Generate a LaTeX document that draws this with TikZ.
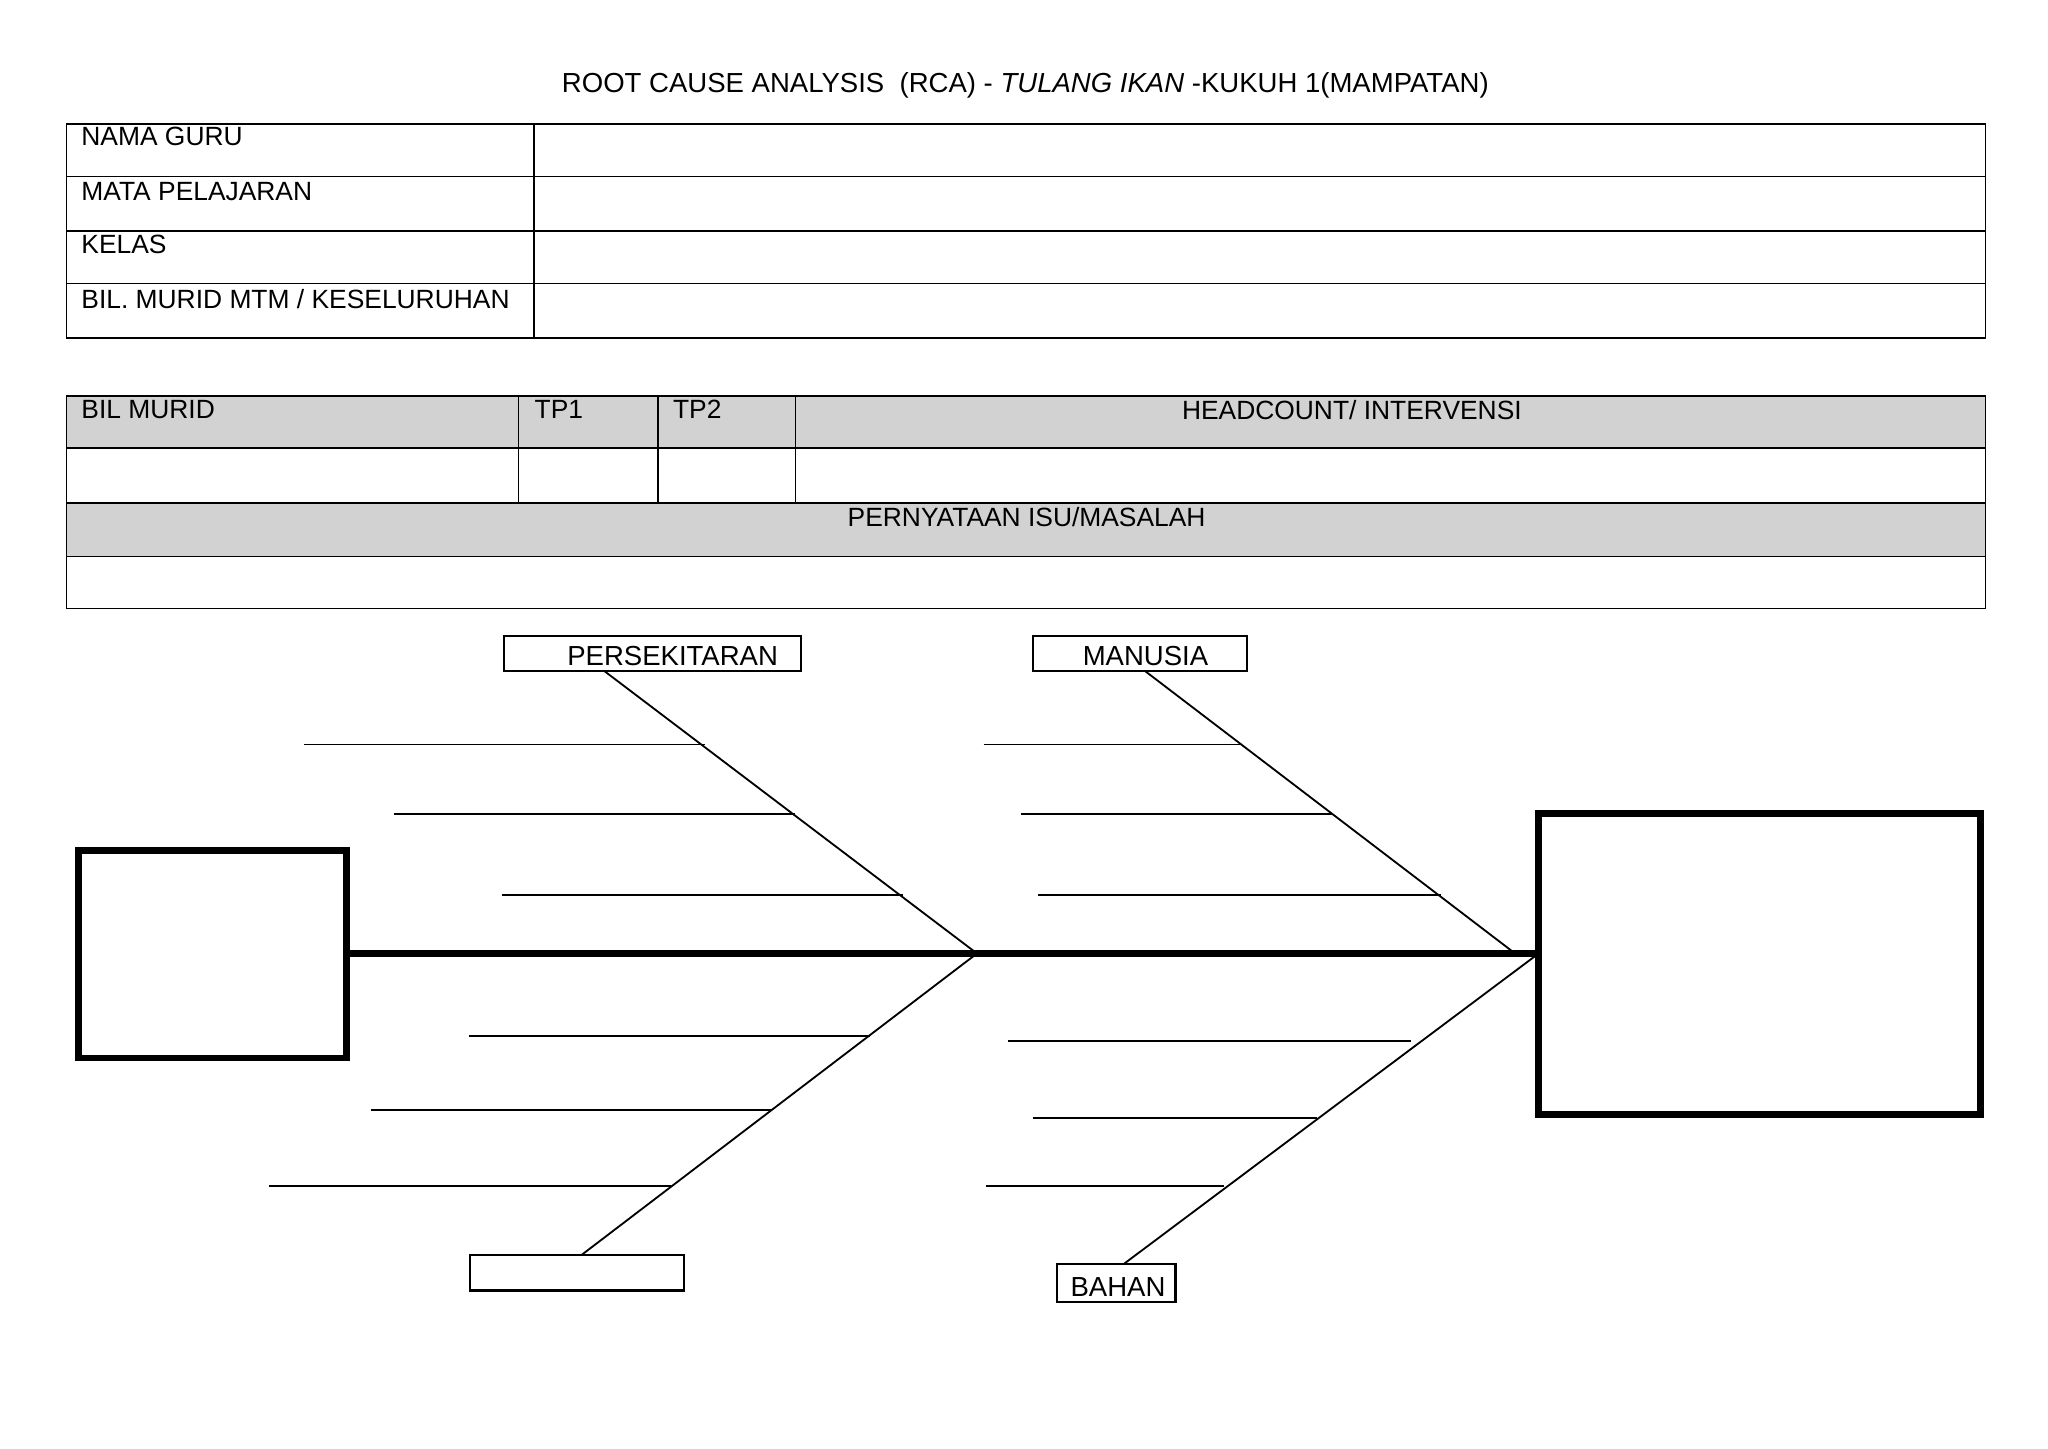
\documentclass[tikz,border=0pt]{standalone}
\usepackage{fontspec}
\setmainfont{Liberation Sans}
\begin{document}
\begin{tikzpicture}[x=0.02cm,y=-0.02cm,
 cell/.style={draw,line width=0.7pt},
 lbl/.style={anchor=north west,inner sep=0pt,font=\fontsize{11.5}{13}\selectfont},
 bone/.style={line width=0.8pt},
 cat/.style={draw,line width=0.9pt},
 catf/.style={font=\fontsize{12}{13}\selectfont},
 thick box/.style={line width=3pt}]
\useasboundingbox (0,0) rectangle (1568,1109);
\node[font=\fontsize{12}{14}\selectfont] (title) at (785,65) {ROOT CAUSE ANALYSIS~~(RCA) - \textit{TULANG IKAN} -KUKUH 1(MAMPATAN)};
% table 1
\foreach \a/\b in {95/135,135/177,177/217,217/259}{
 \draw[cell] (51,\a) rectangle (409,\b);
 \draw[cell] (409,\a) rectangle (1520,\b);}
\node[lbl] (t1) at (62,97) {NAMA GURU};
\node[lbl] (t2) at (62,139) {MATA PELAJARAN};
\node[lbl] (t3) at (62,180) {KELAS};
\node[lbl] (t4) at (62,221) {BIL. MURID MTM / KESELURUHAN};
% table 2
\fill[gray!35] (51,303) rectangle (1520,343);
\fill[gray!35] (51,385) rectangle (1520,426);
\draw[cell] (51,303) rectangle (1520,466);
\foreach \y in {343,385,426} \draw[cell] (51,\y) -- (1520,\y);
\foreach \x in {397,504,609} \draw[cell] (\x,303) -- (\x,385);
\node[lbl] (h1) at (62,306) {BIL MURID};
\node[lbl] (h2) at (409,306) {TP1};
\node[lbl] (h3) at (515,306) {TP2};
\node[lbl,anchor=north] (h4) at (1035,306) {HEADCOUNT/ INTERVENSI};
\node[lbl,anchor=north] (h5) at (786,388) {PERNYATAAN ISU/MASALAH};
% fishbone
\draw[thick box] (60,651) rectangle (265,810);
\draw[thick box] (1178,623) rectangle (1516,853);
\coordinate (sl) at (265,730); \coordinate (sr) at (1178,730);
\draw[line width=3.2pt] (sl) -- (sr);
\draw[cat] (386,487) rectangle (613,514);
\node[catf] (pers) at (515,502) {PERSEKITARAN};
\draw[cat] (791,487) rectangle (955,514);
\node[catf] (man) at (877,502) {MANUSIA};
\draw[cat] (360,961) rectangle (524,988);
\draw[cat] (809,968) rectangle (900,997);
\node[catf] (bah) at (856,985) {BAHAN};
\coordinate (j1) at (748,730); \coordinate (j2) at (1160,730);
\draw[bone] (463,514) -- (j1) -- (445,961);
\draw[bone] (877,514) -- (j2);
\draw[bone] (sr) -- (860,968);
\draw[bone] (233,570)--(540,570) (302,623)--(609,623) (384,685)--(691,685)
 (359,793)--(666,793) (284,850)--(590,850) (206,908)--(514,908)
 (753,570)--(950,570) (782,623)--(1020,623) (795,685)--(1103,685)
 (772,797)--(1080,797) (791,856)--(1008,856) (755,908)--(937,908);
\end{tikzpicture}
\end{document}
